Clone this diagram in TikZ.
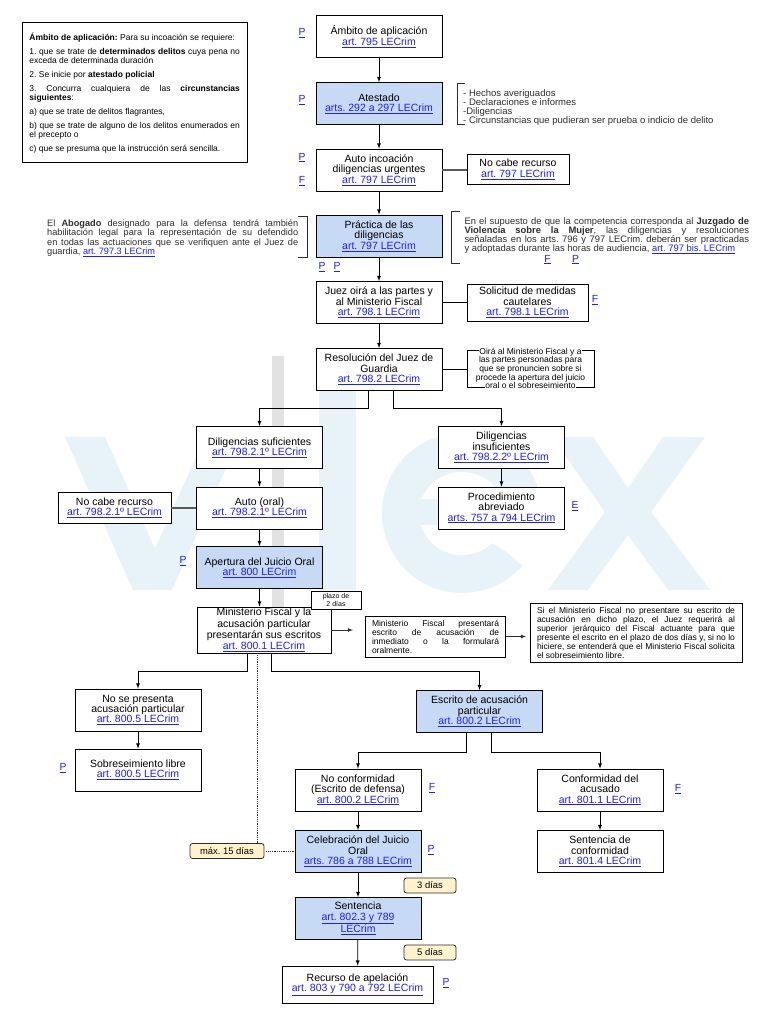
\documentclass[tikz,border=0pt]{standalone}
\usepackage{fontspec}
\setmainfont{Liberation Sans}
\usepackage{color}
\usetikzlibrary{arrows,shapes}
\definecolor{enlace}{RGB}{30,30,245}
\definecolor{celeste}{RGB}{198,217,245}
\definecolor{crema}{RGB}{255,242,204}
\definecolor{agua}{RGB}{232,242,249}
\definecolor{gris}{RGB}{226,226,226}
\definecolor{tinta}{RGB}{45,45,45}
\newcommand{\grosor}{.8pt}
\newcommand{\art}[1]{{\color{enlace}\underline{#1}}}
\newcommand{\tapa}[1]{{\setlength{\fboxsep}{0pt}\colorbox{white}{#1}}}
\frenchspacing

\begin{document}
\begin{tikzpicture}[x=1pt, y=-1pt]
    \tikzset{caja/.style = {draw, fill = white, line width = \grosor, inner sep = 0pt, align = center,
                            minimum width = 126pt, minimum height = 42pt,
                            font = \fontsize{10.5}{10.4}\selectfont}}
    \tikzset{azul/.style = {caja, fill = celeste}}
    \tikzset{nota/.style = {draw, fill = white, line width = \grosor, inner sep = 0pt,
                            font = \fontsize{8.5}{9}\selectfont}}
    \tikzset{suelto/.style = {inner sep = 0pt, text = tinta, font = \fontsize{9.5}{9}\selectfont}}
    \tikzset{plazo/.style = {draw = tinta, fill = crema, line width = \grosor, rounded corners = 2.5pt,
                             minimum height = 15pt, inner sep = 0pt, font = \fontsize{9.4}{9}\selectfont}}
    \tikzset{enl/.style = {inner sep = 0pt, font = \fontsize{10.3}{10.4}\selectfont}}
    \tikzset{flecha/.style = {-latex, line width = \grosor}}
    \tikzset{linea/.style = {line width = \grosor}}
    \tikzset{lineag/.style = {line width = 1.4pt, color = black!65}}
    \tikzset{punteado/.style = {line width = \grosor, densely dotted, color = tinta}}
    \tikzset{corchete/.style = {line width = .7pt, color = tinta}}
    \useasboundingbox (0,0) rectangle (768,1024);
    \fill[white] (0,0) rectangle (768,1024);
    %\draw[help lines, step = 100] (0,0) grid (768,1024);

    \begin{scope}
        \fill[gris] (272,356) rectangle (284,612);
        \fill[agua] (65,437) -- (105,437) -- (155,549) -- (205,437) -- (240,437) -- (172,590) -- (133,590) -- cycle;
        \fill[agua] (319,354) rectangle (356,590);
        \fill[agua] (462,513) ellipse (80 and 80);
        \begin{scope}
            \clip (370,420) rectangle (560,498);
            \fill[white] (462,513) ellipse (43 and 41);
        \end{scope}
        \begin{scope}
            \clip (370,525) rectangle (560,600);
            \fill[white] (462,513) ellipse (43 and 42);
        \end{scope}
        \fill[white] (462,525) -- (560,525) -- (560,600) -- (536,578) -- (508,553) -- cycle;
        \fill[agua] (552,437) -- (593,437) -- (628,488) -- (663,437) -- (705,437) -- (651,512) -- (710,590)
                 -- (668,590) -- (628,535) -- (588,590) -- (548,590) -- (605,512) -- cycle;
    \end{scope}

    \node[nota, text width = 210.5pt, align = justify, inner xsep = 7.2pt, minimum height = 140pt] (info) at (134.7,92.7) {%
        \setlength{\parskip}{5pt}%
        \textbf{Ámbito de aplicación:} Para su incoación se requiere:\par
        1. que se trate de \textbf{determinados delitos} cuya pena no\linebreak exceda de determinada duración\par
        2. Se inicie por \textbf{atestado policial}\par
        3. Concurra cualquiera de las \textbf{circunstancias}\linebreak \textbf{siguientes}:\par
        a) que se trate de delitos flagrantes,\par
        b) que se trate de alguno de los delitos enumerados en\linebreak el precepto o\par
        c) que se presuma que la instrucción será sencilla.};

    % columna central
    \node[caja] (amb) at (379,36.5) {Ámbito de aplicación\\\art{art. 795 LECrim}};
    \node[azul] (ates) at (379,103.5) {Atestado\\\art{arts. 292 a 297 LECrim}};
    \node[caja] (auto) at (379,170) {Auto incoación\\diligencias urgentes\\\art{art. 797 LECrim}};
    \node[azul] (prac) at (379,236) {Práctica de las\\diligencias\\\art{art. 797 LECrim}};
    \node[caja] (juez) at (379,302.5) {Juez oirá a las partes y\\al Ministerio Fiscal\\\art{art. 798.1 LECrim}};
    \node[caja] (res) at (379,369.5) {Resolución del Juez de\\Guardia\\\art{art. 798.2 LECrim}};

    \node[caja, minimum width = 102pt, minimum height = 30.5pt] (nocabea) at (518,169.3) {No cabe recurso\\\art{art. 797 LECrim}};
    \node[caja, minimum width = 121pt, minimum height = 37pt] (sol) at (527.5,302.5) {Solicitud de medidas\\cautelares\\\art{art. 798.1 LECrim}};
    \node[nota, minimum width = 127pt, minimum height = 37pt] (oira) at (530.5,368.5) {};
    \node[inner sep = 0pt, align = center, font = \fontsize{8.5}{8.7}\selectfont] (oiratxt) at (oira) {\tapa{Oirá al Ministerio Fiscal y a}\\las partes personadas para\\que se pronuncien sobre si\\procede la apertura del juicio\\\tapa{oral o el sobreseimiento}};

    \node[suelto, anchor = north west, align = left] (lista) at (463,89) {- Hechos averiguados\\- Declaraciones e informes\\-Diligencias\\- Circunstancias que pudieran ser prueba o indicio de delito};
    \node[suelto, text width = 251pt, align = justify, anchor = north west, font = \fontsize{9.2}{9.3}\selectfont] (abog) at (47,219.5) {El \textbf{Abogado} designado para la defensa tendrá también\linebreak habilitación legal para la representación de su defendido\linebreak en todas las actuaciones que se verifiquen ante el Juez de\linebreak guardia, \art{art. 797.3 LECrim}};
    \node[suelto, text width = 284.5pt, align = justify, anchor = north west, font = \fontsize{9.4}{8.9}\selectfont] (viol) at (464.3,217.5) {En el supuesto de que la competencia corresponda al \textbf{Juzgado de}\linebreak \textbf{Violencia sobre la Mujer}, las diligencias y resoluciones\linebreak señaladas en los arts. 796 y 797 LECrim. deberán ser practicadas\linebreak y adoptadas durante las horas de audiencia, \art{art. 797 bis. LECrim}};

    % ramas
    \node[caja] (dsuf) at (259.5,447.5) {Diligencias suficientes\\\art{art. 798.2.1º LECrim}};
    \node[caja] (dins) at (501.5,447.5) {Diligencias\\insuficientes\\\art{art. 798.2.2º LECrim}};
    \node[caja] (aoral) at (259.5,508) {Auto (oral)\\\art{art. 798.2.1º LECrim}};
    \node[caja] (proc) at (501.5,508) {Procedimiento\\abreviado\\\art{arts. 757 a 794 LECrim}};
    \node[caja, minimum width = 113pt, minimum height = 30.5pt] (nocabeb) at (114.5,508) {No cabe recurso\\\art{art. 798.2.1º LECrim}};
    \node[azul] (aper) at (259.5,567.5) {Apertura del Juicio Oral\\\art{art. 800 LECrim}};
    \node[caja, minimum width = 134pt, minimum height = 46pt, font = \fontsize{10.5}{11.4}\selectfont] (min) at (264,630) {Ministerio Fiscal y la\\acusación particular\\presentarán sus escritos\\\art{art. 800.1 LECrim}};
    \node[nota, minimum width = 50pt, minimum height = 18pt, align = center, font = \fontsize{7}{7.4}\selectfont] (plz) at (336,600) {plazo de\\2 días};
    \node[nota, minimum width = 139.5pt, minimum height = 41pt, text width = 127pt, align = justify] (mf) at (435.5,636.5) {Ministerio Fiscal presentará\linebreak escrito de acusación de\linebreak inmediato o la formulará\linebreak oralmente.};
    \node[nota, minimum width = 212pt, minimum height = 59pt, text width = 198pt, align = justify] (si) at (636,632.5) {Si el Ministerio Fiscal no presentare su escrito de\linebreak acusación en dicho plazo, el Juez requerirá al\linebreak superior jerárquico del Fiscal actuante para que\linebreak presente el escrito en el plazo de dos días y, si no lo\linebreak hiciere, se entenderá que el Ministerio Fiscal solicita\linebreak el sobreseimiento libre.};
    \coordinate (minf) at (353,630);
    \coordinate (mff) at (526,636.5);

    \node[caja] (nose) at (138,710) {No se presenta\\acusación particular\\\art{art. 800.5 LECrim}};
    \node[caja] (sob) at (138,770) {Sobreseimiento libre\\\art{art. 800.5 LECrim}};
    \node[azul] (esc) at (479.5,711.5) {Escrito de acusación\\particular\\\art{art. 800.2 LECrim}};
    \node[caja] (nocon) at (358,790) {No conformidad\\(Escrito de defensa)\\\art{art. 800.2 LECrim}};
    \node[caja] (con) at (600,790) {Conformidad del\\acusado\\\art{art. 801.1 LECrim}};
    \node[azul] (cel) at (358,851.5) {Celebración del Juicio\\Oral\\\art{arts. 786 a 788 LECrim}};
    \node[caja] (scon) at (600,851.5) {Sentencia de\\conformidad\\\art{art. 801.4 LECrim}};
    \node[azul] (sen) at (358,918.5) {Sentencia\\\art{art. 802.3 y 789}\\\art{LECrim}};
    \node[caja, minimum width = 151pt, minimum height = 37pt] (rec) at (357.5,984.5) {Recurso de apelación\\\art{art. 803 y 790 a 792 LECrim}};

    \node[plazo, minimum width = 74pt] (max) at (227,851) {máx. 15 días};
    \node[plazo, minimum width = 52pt] (tres) at (430,885.5) {3 días};
    \node[plazo, minimum width = 52pt] (cinco) at (430,952.5) {5 días};

    \foreach \n/\t/\px/\py in {pa/P/302/33, pb/P/302/100, pc/P/302/157.5, fa/F/302/181, pd/P/322/267, pe/P/337/267,
                               fb/F/547.5/259.5, pf/P/575.5/259.5, fc/F/595/300, pg/P/183/561, ea/E/575/506, ph/P/63/768,
                               fd/F/432/788, fe/F/678/789, pi/P/431/850, pj/P/446/983}{
        \node[enl] (\n) at (\px,\py) {\art{\t}};
    }

    \draw[flecha] (amb) -- (ates);
    \draw[flecha] (ates) -- (auto);
    \draw[flecha] (auto) -- (prac);
    \draw[flecha] (prac) -- (juez);
    \draw[flecha] (juez) -- (res);
    \draw[flecha] ([xshift=-11pt]res.south) -- ++(0,17) -| (dsuf.north);
    \draw[flecha] ([xshift=14pt]res.south) -- ++(0,17) -| (dins.north);
    \draw[flecha] (dsuf) -- (aoral);
    \draw[flecha] (aoral) -- (aper);
    \draw[flecha] (aper.south) -- (aper.south |- min.north);
    \draw[flecha] (dins) -- (proc);
    \draw[flecha] ([xshift=-17pt]min.south) -- ++(0,18) -| (nose.north);
    \draw[flecha] ([xshift=7pt]min.south) -- ++(0,18) -| (esc.north);
    \draw[flecha] (nose) -- (sob);
    \draw[flecha] ([xshift=-13pt]esc.south) -- ++(0,19) -| (nocon.north);
    \draw[flecha] ([xshift=11.5pt]esc.south) -- ++(0,19) -| (con.north);
    \draw[flecha] (nocon) -- (cel);
    \draw[flecha] (cel) -- (sen);
    \draw[flecha] (sen) -- (rec);
    \draw[flecha] (con) -- (scon);
    \draw[flecha, color = tinta] (min.east) -- (minf);
    \draw[flecha, color = tinta] (mf.east) -- (mff);
    \draw[lineag] (auto.east) -- (auto.east -| nocabea.west);
    \draw[linea] (juez) -- (sol);
    \draw[linea] (res.east) -- (res.east -| oira.west);
    \draw[lineag] (aoral) -- (nocabeb);
    \draw[punteado] ([xshift=-6.5pt]min.south) -- ([xshift=-6.5pt]min.south |- max.north);
    \draw[punteado] ([xshift=2pt]max.east) -- (max.east -| cel.west);

    \draw[corchete] (465,83) -- (457.5,83) -- (457.5,124) -- (465,124);
    \draw[corchete] (298,216) -- (307.5,216) -- (307.5,257) -- (298,257);
    \draw[corchete] (460,211) -- (451,211) -- (451,263) -- (460,263);
\end{tikzpicture}
\end{document}
